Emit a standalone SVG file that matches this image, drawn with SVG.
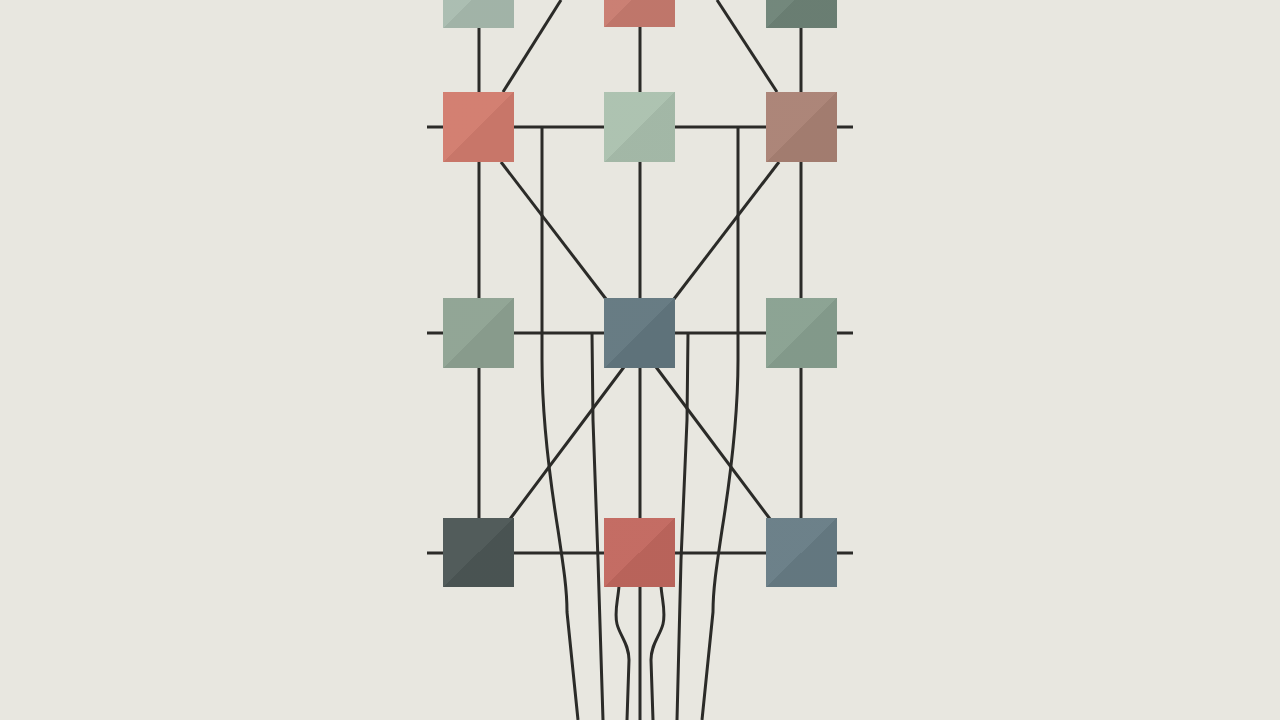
<svg xmlns="http://www.w3.org/2000/svg" width="1280" height="720" viewBox="0 0 1280 720">
<defs>
<style>
.ln{stroke:#2b2b28;stroke-width:3;fill:none;stroke-linecap:butt;stroke-linejoin:round}
</style>
<linearGradient id="g" x1="0" y1="0" x2="1" y2="1">
<stop offset="0" stop-color="#fff" stop-opacity="0.03"/>
<stop offset="0.5" stop-color="#fff" stop-opacity="0.03"/>
<stop offset="0.5" stop-color="#000" stop-opacity="0.05"/>
<stop offset="1" stop-color="#000" stop-opacity="0.05"/>
</linearGradient>
</defs>
<rect width="1280" height="720" fill="#E8E7E0"/>
<g id="connectors">
<line class="ln" x1="427" y1="127" x2="853" y2="127"/>
<line class="ln" x1="427" y1="333" x2="853" y2="333"/>
<line class="ln" x1="427" y1="553" x2="853" y2="553"/>
<line class="ln" x1="479" y1="0" x2="479" y2="520"/>
<line class="ln" x1="640" y1="0" x2="640" y2="720"/>
<line class="ln" x1="801" y1="0" x2="801" y2="520"/>
<line class="ln" x1="561" y1="0" x2="503" y2="92"/>
<line class="ln" x1="717" y1="0" x2="777" y2="92"/>
<line class="ln" x1="501" y1="162" x2="606" y2="299"/>
<line class="ln" x1="779" y1="162" x2="674" y2="299"/>
<line class="ln" x1="624" y1="367" x2="510" y2="519"/>
<line class="ln" x1="656" y1="367" x2="770" y2="519"/>
<path class="ln" d="M542 127 L542 360 C542 420 550 480 558 530 C564 570 567 590 567 612 L578 720"/>
<path class="ln" d="M738 127 L738 360 C738 420 730 480 722 530 C716 570 713 590 713 612 L702 720"/>
<path class="ln" d="M592 333 L593 420 L598 560 L603 720"/>
<path class="ln" d="M688 333 L687 420 L681 560 L677 720"/>
<path class="ln" d="M619 586 C618 600 614 612 617 624 C620 636 629 644 629 660 L627 720"/>
<path class="ln" d="M661 586 C662 600 666 612 663 624 C660 636 651 644 651 660 L653 720"/>
</g>
<g id="n1"><rect x="443" y="-42" width="71" height="70" fill="#A9BCB0"/><rect x="443" y="-42" width="71" height="70" fill="url(#g)"/></g>
<g id="n2"><rect x="604" y="-43" width="71" height="70" fill="#C97C70"/><rect x="604" y="-43" width="71" height="70" fill="url(#g)"/></g>
<g id="n3"><rect x="766" y="-42" width="71" height="70" fill="#6F8478"/><rect x="766" y="-42" width="71" height="70" fill="url(#g)"/></g>
<g id="n4"><rect x="443" y="92" width="71" height="70" fill="#D27C6E"/><rect x="443" y="92" width="71" height="70" fill="url(#g)"/></g>
<g id="n5"><rect x="604" y="92" width="71" height="70" fill="#ABC1AF"/><rect x="604" y="92" width="71" height="70" fill="url(#g)"/></g>
<g id="n6"><rect x="766" y="92" width="71" height="70" fill="#AA8275"/><rect x="766" y="92" width="71" height="70" fill="url(#g)"/></g>
<g id="n7"><rect x="443" y="298" width="71" height="70" fill="#8FA393"/><rect x="443" y="298" width="71" height="70" fill="url(#g)"/></g>
<g id="n8"><rect x="604" y="298" width="71" height="70" fill="#637880"/><rect x="604" y="298" width="71" height="70" fill="url(#g)"/></g>
<g id="n9"><rect x="766" y="298" width="71" height="70" fill="#89A191"/><rect x="766" y="298" width="71" height="70" fill="url(#g)"/></g>
<g id="n10"><rect x="443" y="518" width="71" height="69" fill="#4D5756"/><rect x="443" y="518" width="71" height="69" fill="url(#g)"/></g>
<g id="n11"><rect x="604" y="518" width="71" height="69" fill="#C2685F"/><rect x="604" y="518" width="71" height="69" fill="url(#g)"/></g>
<g id="n12"><rect x="766" y="518" width="71" height="69" fill="#687D86"/><rect x="766" y="518" width="71" height="69" fill="url(#g)"/></g>
</svg>
